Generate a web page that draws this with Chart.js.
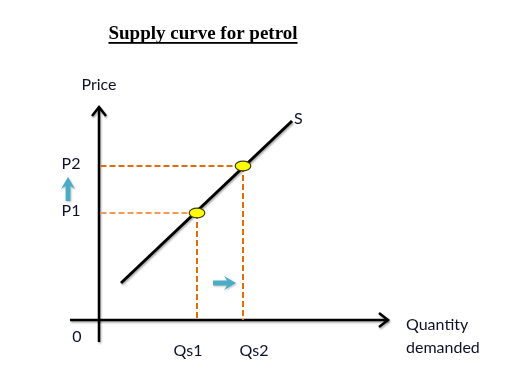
<!DOCTYPE html>
<html><head><meta charset="utf-8">
<script src="https://cdn.jsdelivr.net/npm/chart.js@4/dist/chart.umd.min.js"></script>
<style>html,body{margin:0;padding:0;background:#fff}#wrap{width:530px;height:386px}</style>
</head><body><div id="wrap"><canvas id="c" width="530" height="386"></canvas></div>
<script>
// ---- data (arbitrary units: quantity on x, price on y) ----
const titleText = 'Supply curve for petrol';
const curveName = 'S';
const priceLabels = ['P1', 'P2'];
const quantityLabels = ['Qs1', 'Qs2'];
const quantities = [9.8, 14.4];
const prices = [10.7, 15.4];
const supplyQ = [2.2, 19.3];
const supplyP = [3.7, 19.9];
const xAxisTitle = ['Quantity', 'demanded'];
const yAxisTitle = 'Price';
const originLabel = '0';
const xAxisRange = [-2.9, 28.9];
const yAxisRange = [-2.2, 21.3];

// ---- styles ----
const ORANGE = '#e36c0a';
const ORANGE_LIGHT = '#f49a55';
const BLUE = '#4bacc6';
const TEXT = '#10102a';
const LABEL_FONT = '16px Lato';

function ellipseStyle() {
  const c = document.createElement('canvas');
  c.width = 18; c.height = 12;
  const g = c.getContext('2d');
  g.beginPath();
  g.ellipse(9, 6, 7.8, 4.8, 0, 0, Math.PI * 2);
  g.fillStyle = '#ffff00';
  g.fill();
  g.lineWidth = 1.2;
  g.strokeStyle = '#3a3a1a';
  g.stroke();
  return c;
}

const datasets = [];
// equilibrium points
datasets.push({
  type: 'scatter', order: 0,
  data: quantities.map((q, i) => ({ x: q, y: prices[i] })),
  pointStyle: ellipseStyle(), pointRadius: 8, pointHoverRadius: 8
});
// supply curve
datasets.push({
  type: 'line', order: 1, shadow: true,
  data: supplyQ.map((q, i) => ({ x: q, y: supplyP[i] })),
  borderColor: '#000', borderWidth: 3, pointRadius: 0, tension: 0
});
// axes
datasets.push({
  type: 'line', order: 3, shadow: true, arrow: 'x',
  data: [{ x: xAxisRange[0], y: 0 }, { x: xAxisRange[1], y: 0 }],
  borderColor: '#000', borderWidth: 2.5, pointRadius: 0
});
datasets.push({
  type: 'line', order: 3, shadow: true, arrow: 'y',
  data: [{ x: 0, y: yAxisRange[0] }, { x: 0, y: yAxisRange[1] }],
  borderColor: '#000', borderWidth: 2.5, pointRadius: 0
});
// dashed guides
quantities.forEach((q, i) => {
  datasets.push({
    type: 'line', order: 2,
    data: [{ x: 0.15, y: prices[i] }, { x: q, y: prices[i] }],
    borderColor: i === 0 ? ORANGE_LIGHT : ORANGE, borderWidth: 2, borderDash: [6, 3],
    pointRadius: 0
  });
  datasets.push({
    type: 'line', order: 2,
    data: [{ x: q, y: prices[i] }, { x: q, y: 0 }],
    borderColor: ORANGE, borderWidth: 2, borderDash: [6, 3],
    pointRadius: 0
  });
});

const shadowPlugin = {
  id: 'shadow',
  beforeDatasetDraw(chart, args) {
    const ds = chart.data.datasets[args.index];
    if (ds.shadow) {
      const ctx = chart.ctx;
      ctx.save();
      ctx.shadowColor = 'rgba(0,0,0,0.35)';
      ctx.shadowBlur = 2;
      ctx.shadowOffsetX = 1;
      ctx.shadowOffsetY = 1.5;
    }
  },
  afterDatasetDraw(chart, args) {
    const ds = chart.data.datasets[args.index];
    const ctx = chart.ctx;
    if (ds.shadow) ctx.restore();
    if (ds.arrow) {
      const sx = chart.scales.x, sy = chart.scales.y;
      const last = ds.data[ds.data.length - 1];
      const px = sx.getPixelForValue(last.x), py = sy.getPixelForValue(last.y);
      ctx.save();
      ctx.shadowColor = 'rgba(0,0,0,0.35)';
      ctx.shadowBlur = 2; ctx.shadowOffsetX = 1; ctx.shadowOffsetY = 1.5;
      ctx.strokeStyle = '#000'; ctx.lineWidth = 2.5; ctx.lineJoin = 'miter';
      ctx.beginPath();
      if (ds.arrow === 'x') {
        ctx.moveTo(px - 9, py - 7); ctx.lineTo(px, py); ctx.lineTo(px - 9, py + 7);
      } else {
        ctx.moveTo(px - 7, py + 9); ctx.lineTo(px, py); ctx.lineTo(px + 7, py + 9);
      }
      ctx.stroke();
      ctx.restore();
    }
  }
};

function blockArrow(ctx, x0, y0, x1, y1) {
  const dx = x1 - x0, dy = y1 - y0, len = Math.hypot(dx, dy);
  const ux = dx / len, uy = dy / len, nx = -uy, ny = ux;
  const shaft = 2.4, head = 7, hl = 9, notch = 3;
  const bx = x1 - ux * hl, by = y1 - uy * hl;
  const cx = bx - ux * notch, cy = by - uy * notch;
  ctx.beginPath();
  ctx.moveTo(x0 + nx * shaft, y0 + ny * shaft);
  ctx.lineTo(bx + nx * shaft, by + ny * shaft);
  ctx.lineTo(cx + nx * head, cy + ny * head);
  ctx.lineTo(x1, y1);
  ctx.lineTo(cx - nx * head, cy - ny * head);
  ctx.lineTo(bx - nx * shaft, by - ny * shaft);
  ctx.lineTo(x0 - nx * shaft, y0 - ny * shaft);
  ctx.closePath();
  ctx.fill();
}

const textPlugin = {
  id: 'texts',
  afterDraw(chart) {
    const ctx = chart.ctx, sx = chart.scales.x, sy = chart.scales.y;
    const X = v => sx.getPixelForValue(v), Y = v => sy.getPixelForValue(v);
    ctx.save();
    // title
    ctx.font = 'bold 19px "Liberation Serif"';
    ctx.fillStyle = '#000';
    ctx.textAlign = 'center'; ctx.textBaseline = 'alphabetic';
    const tx = 203, ty = 39;
    ctx.fillText(titleText, tx, ty);
    const w = ctx.measureText(titleText).width;
    ctx.fillRect(tx - w / 2, ty + 3, w, 1.8);

    ctx.font = LABEL_FONT;
    ctx.fillStyle = TEXT;
    ctx.textBaseline = 'middle';
    ctx.textAlign = 'center';
    ctx.fillText(yAxisTitle, X(0), Y(yAxisRange[1]) - 22);
    priceLabels.forEach((t, i) => ctx.fillText(t, X(0) - 28, Y(prices[i]) - 2));
    const qOff = [-9, 11];
    quantityLabels.forEach((t, i) => ctx.fillText(t, X(quantities[i]) + qOff[i], Y(0) + 31));
    ctx.fillText(originLabel, X(0) - 22, Y(0) + 17);
    ctx.textAlign = 'left';
    ctx.fillText(xAxisTitle[0], X(xAxisRange[1]) + 18, Y(0) + 5);
    ctx.fillText(xAxisTitle[1], X(xAxisRange[1]) + 18, Y(0) + 28);
    ctx.fillText(curveName, X(supplyQ[1]) + 2, Y(supplyP[1]) - 2);

    // blue shift arrows
    ctx.fillStyle = BLUE;
    ctx.shadowColor = 'rgba(0,0,0,0.25)';
    ctx.shadowBlur = 2; ctx.shadowOffsetX = 1; ctx.shadowOffsetY = 1;
    blockArrow(ctx, X(0) - 31, Y(prices[0]) - 12, X(0) - 31, Y(prices[1]) + 11);
    blockArrow(ctx, X(quantities[0]) + 16, Y(supplyP[0]), X(quantities[0]) + 39, Y(supplyP[0]));
    ctx.restore();
  }
};

new Chart(document.getElementById('c'), {
  type: 'line',
  data: { datasets },
  options: {
    responsive: false, devicePixelRatio: 1, animation: false,
    layout: { padding: 0, autoPadding: false },
    plugins: { legend: { display: false }, tooltip: { enabled: false }, title: { display: false } },
    events: [],
    scales: {
      x: { type: 'linear', display: false, min: -9.9, max: 43.1 },
      y: { type: 'linear', display: false, min: -6.6, max: 32.0 }
    }
  },
  plugins: [shadowPlugin, textPlugin]
});
</script>
</body></html>
